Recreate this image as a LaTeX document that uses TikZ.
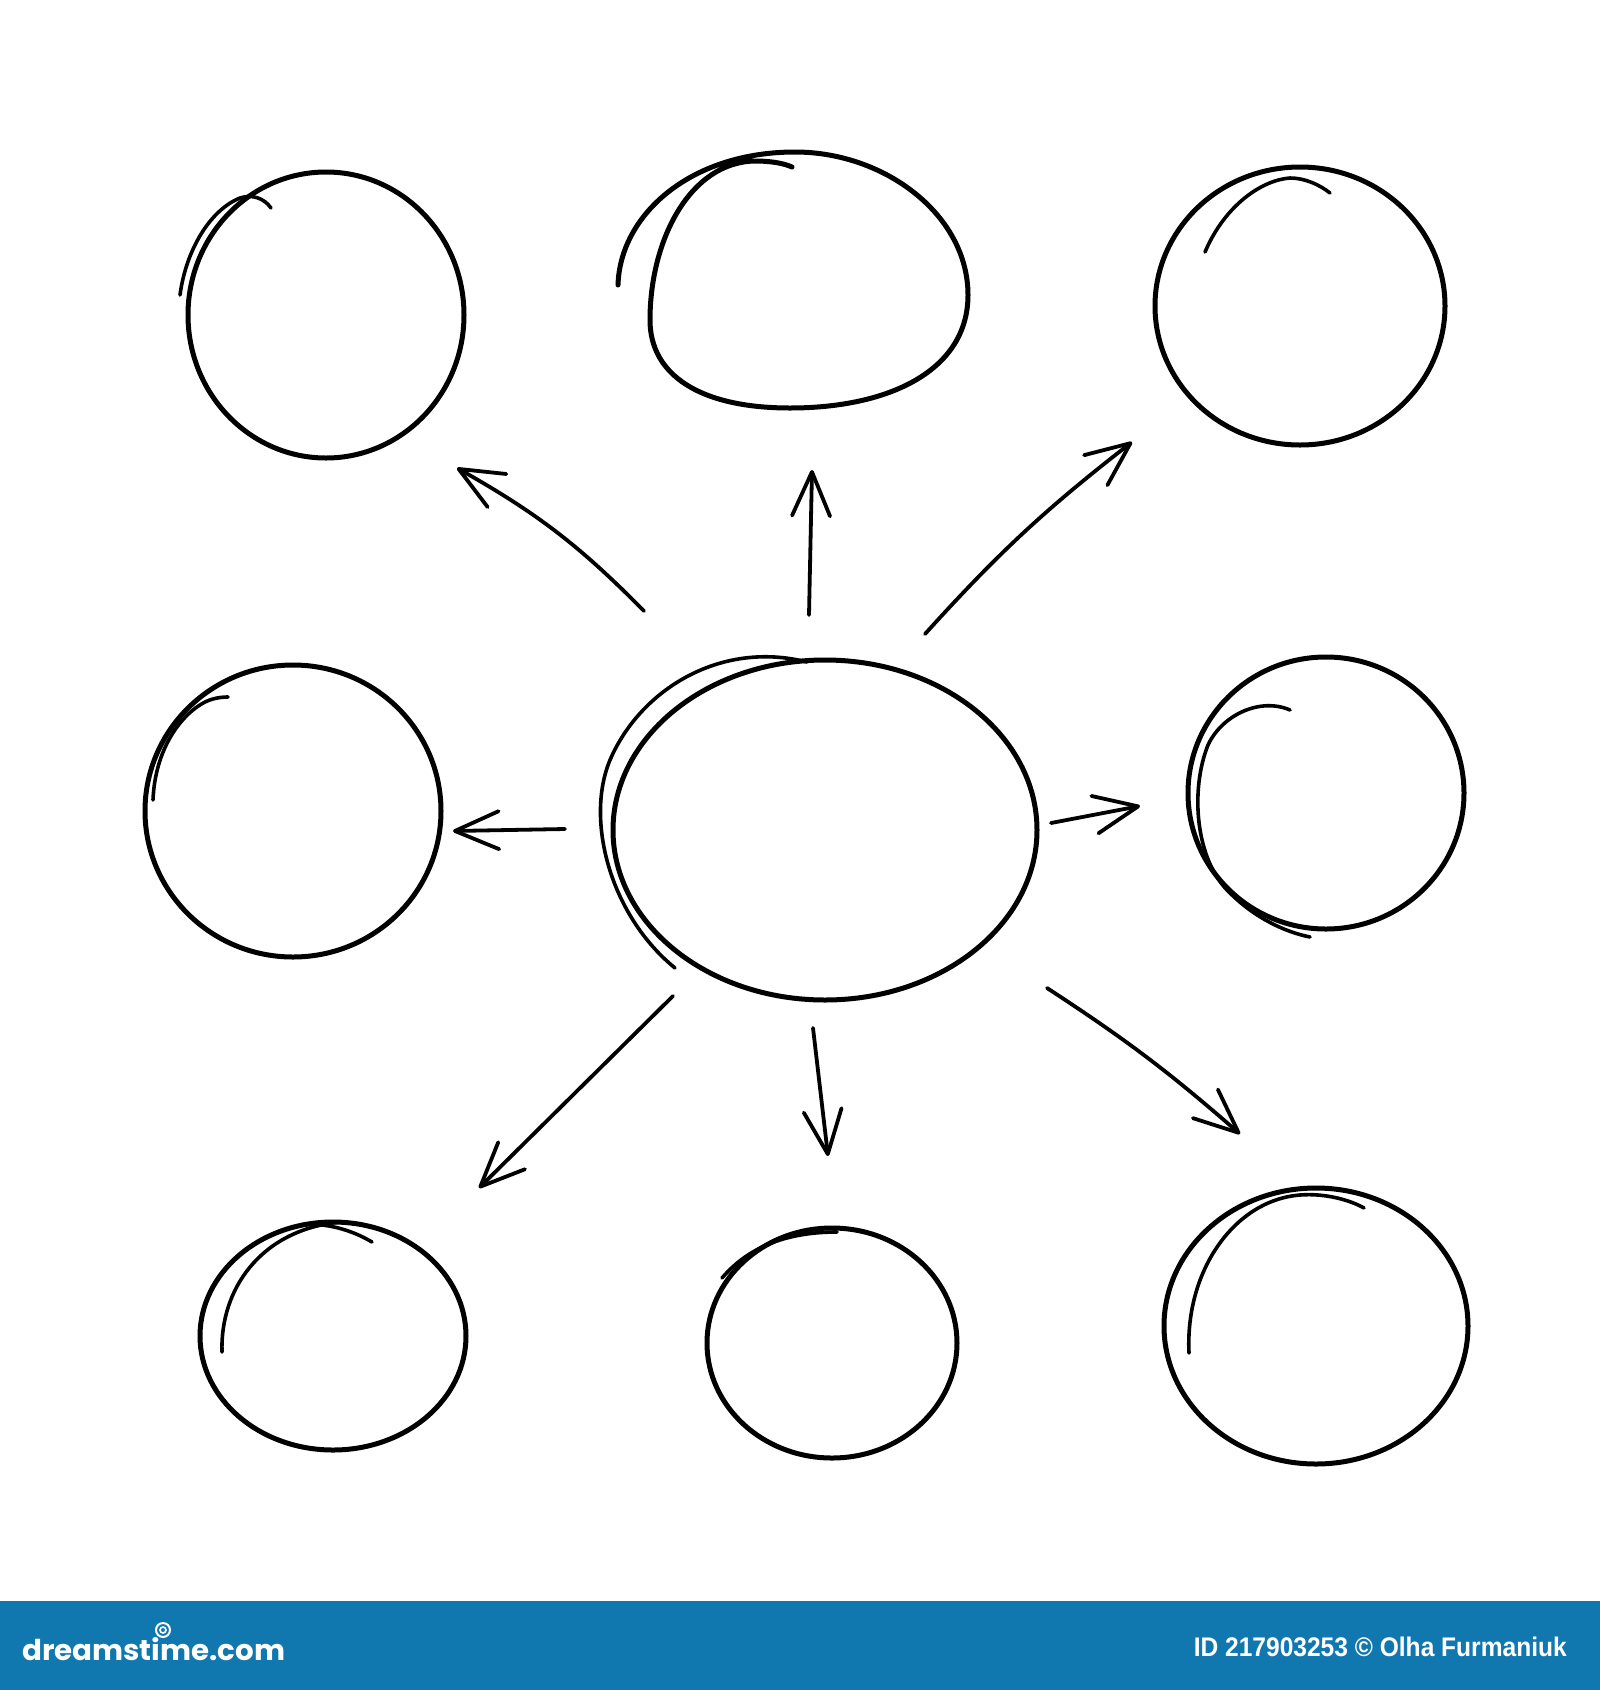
\documentclass[tikz,border=0pt]{standalone}
\usepackage{fontspec}
\usepackage{graphicx}
\usetikzlibrary{shapes.geometric,arrows.meta}
\newfontfamily\logofont{Poppins}
\newfontfamily\creditfont{Liberation Sans}
\definecolor{barblue}{RGB}{17,119,175}
\tikzset{
  bubble/.style={ellipse, draw, line width=5pt, inner sep=0pt, outer sep=0pt},
  shapeline/.style={line width=5pt, line cap=round, line join=round},
  extra/.style={line width=3.6pt, line cap=round},
  arr/.style={line width=3.8pt, line cap=round, -{Straight Barb[length=44pt,width=38pt,round]}},
}
\begin{document}
\begin{tikzpicture}[x=1pt,y=-1pt]
\useasboundingbox (0,0) rectangle (1600,1690);
\fill[white] (0,0) rectangle (1600,1690);

% ---- bubbles ----
\node[bubble, minimum width=276pt, minimum height=286pt] (tl) at (326,315) {};
\node[bubble, minimum width=290pt, minimum height=278pt] (tr) at (1300,306) {};
\node[bubble, minimum width=296pt, minimum height=292pt] (ml) at (293,811) {};
\node[bubble, minimum width=424pt, minimum height=340pt] (c) at (825,830) {};
\node[bubble, minimum width=276pt, minimum height=272pt] (mr) at (1326,793) {};
\node[bubble, minimum width=266pt, minimum height=228pt] (bl) at (333,1336) {};
\node[bubble, minimum width=250pt, minimum height=230pt] (bm) at (832,1343) {};
\node[bubble, minimum width=304pt, minimum height=276pt] (br) at (1316,1326) {};

% top-middle bubble drawn as a spiral stroke
\coordinate (tm) at (809,280);
\draw[shapeline] (618,285) .. controls (620,215) and (690,152) .. (795,152)
  .. controls (885,152) and (968,215) .. (968,295)
  .. controls (968,370) and (890,408) .. (790,408)
  .. controls (700,408) and (650,375) .. (650,320)
  .. controls (650,240) and (690,162) .. (755,161)
  .. controls (770,161) and (783,163) .. (792,167);

% ---- extra sketch strokes ----
\draw[extra] (180,295) .. controls (186,250) and (210,210) .. (240,198)
  .. controls (252,194) and (264,198) .. (271,208);
\draw[extra] (1205,252) .. controls (1225,205) and (1262,180) .. (1290,178)
  .. controls (1305,178) and (1320,185) .. (1330,193);
\draw[extra] (153,800) .. controls (155,750) and (180,715) .. (205,702)
  .. controls (213,698) and (222,697) .. (228,697);
\draw[extra] (675,968) .. controls (610,915) and (585,820) .. (610,760)
  .. controls (640,690) and (720,640) .. (807,662);
\draw[extra] (1290,710) .. controls (1260,697) and (1222,715) .. (1208,745)
  .. controls (1190,790) and (1195,860) .. (1230,893)
  .. controls (1255,918) and (1285,932) .. (1310,937);
\draw[extra] (222,1352) .. controls (220,1290) and (260,1230) .. (340,1222);
\draw[extra] (300,1225) .. controls (325,1222) and (352,1230) .. (372,1242);
\draw[extra] (722,1278) .. controls (750,1245) and (790,1232) .. (837,1232);
\draw[extra] (1189,1353) .. controls (1185,1270) and (1235,1200) .. (1300,1195)
  .. controls (1325,1193) and (1350,1200) .. (1364,1208);

% ---- arrow end points ----
\coordinate (a1s) at (644,611);  \coordinate (a1e) at (457,468);
\coordinate (a2s) at (809,615);  \coordinate (a2e) at (812,470);
\coordinate (a3s) at (925,634);  \coordinate (a3e) at (1132,442);
\coordinate (a4s) at (565,829);  \coordinate (a4e) at (453,831);
\coordinate (a5s) at (1051,823); \coordinate (a5e) at (1140,806);
\coordinate (a6s) at (673,996);  \coordinate (a6e) at (479,1188);
\coordinate (a7s) at (813,1028); \coordinate (a7e) at (828,1156);
\coordinate (a8s) at (1047,988); \coordinate (a8e) at (1240,1134);

\draw[arr] (a1s) to[bend right=8] (a1e);
\draw[arr] (a2s) -- (a2e);
\draw[arr] (a3s) to[bend left=5] (a3e);
\draw[arr] (a4s) -- (a4e);
\draw[arr] (a5s) -- (a5e);
\draw[arr] (a6s) -- (a6e);
\draw[arr] (a7s) -- (a7e);
\draw[arr] (a8s) to[bend left=4] (a8e);

% ---- bottom bar ----
\fill[barblue] (0,1601) rectangle (1600,1690);
\node[anchor=base west, inner sep=0pt, text=white] (logo) at (22,1660)
  {\resizebox{263pt}{23pt}{\logofont\bfseries dreamstime.com}};
\draw[white, line width=2pt] (163,1630) circle[radius=7pt];
\draw[white, line width=1.6pt] (163,1630) circle[radius=3pt];
\node[anchor=base east, inner sep=0pt, text=white] (credit) at (1567,1656)
  {\resizebox{373pt}{19.5pt}{\creditfont\bfseries ID 217903253 © Olha Furmaniuk}};
\end{tikzpicture}
\end{document}
